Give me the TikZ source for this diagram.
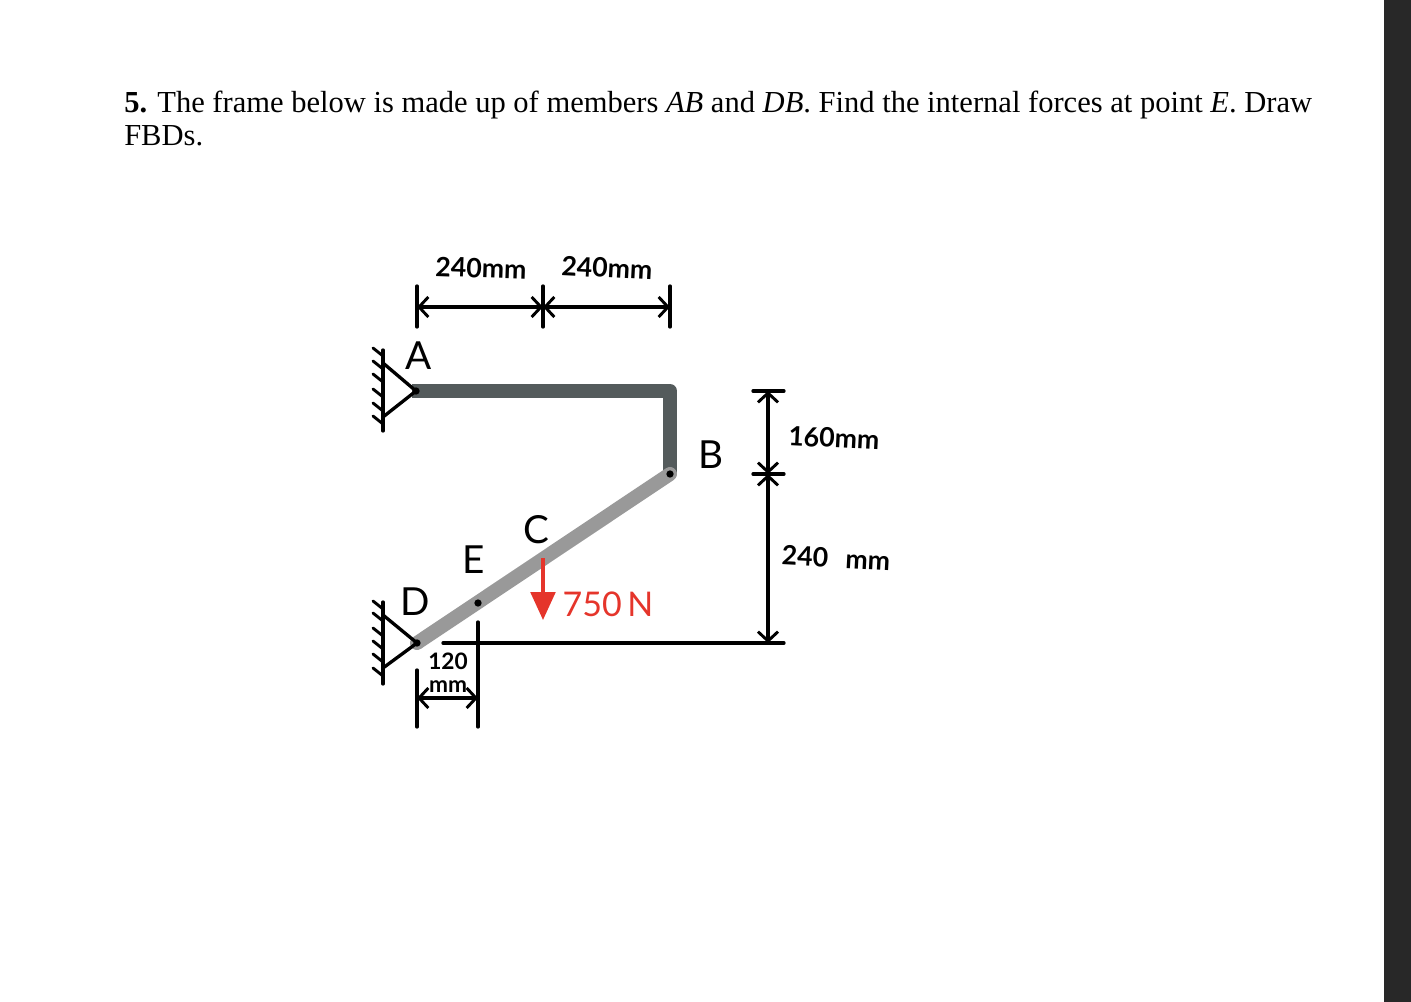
\documentclass[tikz,border=0pt]{standalone}
\usepackage{fontspec}
\setmainfont{Liberation Serif}
\newfontfamily\handfont{Lato}
\usetikzlibrary{arrows.meta,positioning}
\definecolor{barAB}{HTML}{545B5C}
\definecolor{barDB}{HTML}{999999}
\definecolor{loadred}{HTML}{E5352B}
\definecolor{sidebar}{HTML}{282828}
\tikzset{
  pen/.style={line width=2.5pt,line cap=round,line join=round},
  hatch/.style={line width=2.2pt,line cap=round},
  dimline/.style={pen,{Straight Barb[length=7pt,width=15pt,line width=2.2pt]}-{Straight Barb[length=7pt,width=15pt,line width=2.2pt]}},
  pindot/.style={circle,fill=black,inner sep=0pt,minimum size=5.5pt},
  hand/.style={font=\handfont\fontsize{29}{29}\selectfont,inner sep=0pt},
  dimtext/.style={font=\handfont\bfseries\fontsize{20}{20}\selectfont,inner sep=0pt},
  question/.style={anchor=base west,inner sep=0pt,font=\fontsize{22.9}{26}\selectfont}
}
\begin{document}
\begin{tikzpicture}[x=0.75pt,y=-0.75pt]
  \useasboundingbox (0,0) rectangle (1411,1002);
  \fill[sidebar] (1384,0) rectangle (1411,1002);
  \node[question] (line1) at (124,113) {\textbf{5.} The frame below is made up of members \textit{AB} and \textit{DB}. Find the internal forces at point \textit{E}. Draw};
  \node[question] (line2) at (124,146) {FBDs.};

  \coordinate (Acen) at (416,391);
  \coordinate (Bcen) at (670,474);
  \coordinate (Dcen) at (417,643);
  \coordinate (corner) at (670,391);
  \coordinate (Astart) at (412,391);
  \draw[barAB,line width=10.5pt,line join=round] (Astart) -- (corner) -- (Bcen);
  \draw[barDB,line width=10.5pt,line cap=round] (Dcen) -- (Bcen);
  \node[pindot] (A) at (Acen) {};
  \node[pindot] (B) at (Bcen) {};
  \node[pindot] (D) at (Dcen) {};
  \node[pindot] (E) at (478,603) {};

  % supports
  \coordinate (wallAt) at (383,350);
  \coordinate (wallAb) at (383,431);
  \coordinate (triAt) at (383,363);
  \coordinate (triAb) at (383,417);
  \draw[pen] (wallAt) -- (wallAb);
  \draw[pen] (triAt) -- (A.center) -- (triAb);
  \foreach \y in {352,365,378,393,407,420}
    \draw[hatch] (373,\y-4) -- (383,\y+4);
  \coordinate (wallDt) at (383,602);
  \coordinate (wallDb) at (383,684);
  \coordinate (triDt) at (383,615);
  \coordinate (triDb) at (383,668);
  \draw[pen] (wallDt) -- (wallDb);
  \draw[pen] (triDt) -- (D.center) -- (triDb);
  \foreach \y in {605,617,632,645,658,672}
    \draw[hatch] (373,\y-4) -- (383,\y+4);

  % top dimensions
  \coordinate (t1) at (417,307);
  \coordinate (t2) at (543,307);
  \coordinate (t3) at (670,307);
  \draw[pen] (417,286) -- (417,327);
  \draw[pen] (543,286) -- (543,327);
  \draw[pen] (670,286) -- (670,327);
  \draw[dimline] (t1) -- (t2);
  \draw[dimline] (t2) -- (t3);

  % right dimensions
  \coordinate (r1) at (768,391);
  \coordinate (r2) at (768,474);
  \coordinate (r3) at (768,643);
  \draw[pen] (753,391) -- (784,391);
  \draw[pen] (753,474) -- (784,474);
  \draw[pen] (443,643) -- (784,643);
  \draw[dimline] (r1) -- (r2);
  \draw[dimline] (r2) -- (r3);

  % lower dimension
  \coordinate (b1) at (417,698);
  \coordinate (b2) at (478,698);
  \draw[pen] (417,670) -- (417,727);
  \draw[pen] (478,622) -- (478,727);
  \draw[dimline] (b1) -- (b2);

  % load
  \coordinate (C) at (543,558);
  \coordinate (Cload) at (543,620);
  \draw[loadred,line width=2.6pt,-{Triangle[length=21pt,width=18.5pt]}] (C) -- (Cload);

  % labels
  \node[hand] (labA) at (419,356) {A};
  \node[hand] (labB) at (711,455) {B};
  \node[hand] (labC) at (536,530) {C};
  \node[hand] (labD) at (415,602) {D};
  \node[hand] (labE) at (474,560) {E};
  \node[hand,text=loadred,font=\handfont\fontsize{25.5}{25}\selectfont] (load) at (608,604) {750\,N};
  \node[dimtext,rotate=-2] (d1) at (481,268) {240mm};
  \node[dimtext,rotate=-3] (d2) at (607,268) {240mm};
  \node[dimtext,rotate=-3] (d3) at (834,438) {160mm};
  \node[dimtext,rotate=-3] (d4) at (836,558) {240\hspace{13pt}mm};
  \node[dimtext,align=center,font=\handfont\bfseries\fontsize{17}{17}\selectfont] (d5) at (448,673) {120\\mm};
\end{tikzpicture}
\end{document}
